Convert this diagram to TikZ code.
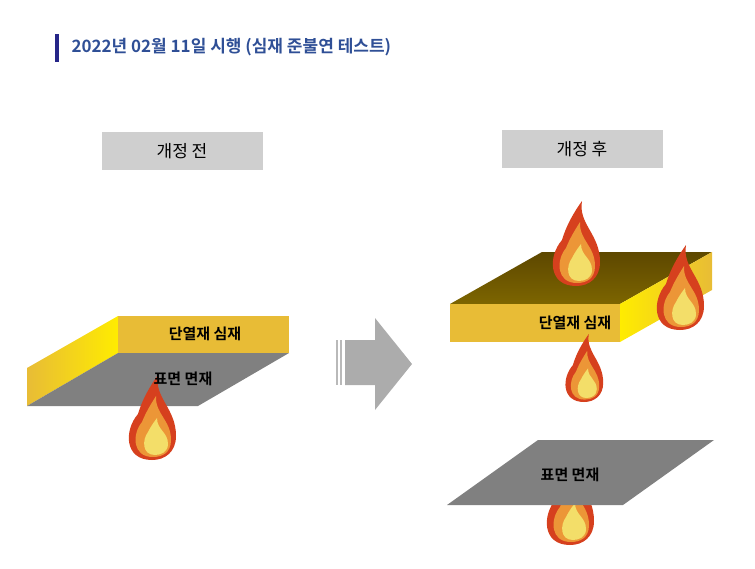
\documentclass[tikz,border=0pt]{standalone}
\usepackage{fontspec}
\setmainfont{Noto Sans CJK KR}
\newfontfamily\krb{Noto Sans CJK KR Bold}
\definecolor{fred}{RGB}{214,64,30}
\definecolor{forg}{RGB}{236,150,55}
\definecolor{fyel}{RGB}{243,222,105}
\definecolor{slabY}{RGB}{232,188,54}
\definecolor{plateG}{RGB}{128,128,128}
\definecolor{olive}{RGB}{110,84,0}
\begin{document}
\begin{tikzpicture}[x=1pt,y=-1pt,
  lab/.style={font=\krb\fontsize{15}{17}\selectfont,text=black,inner sep=0},
  hdr/.style={fill=gray!38,minimum width=161pt,minimum height=38pt,font=\fontsize{17}{19}\selectfont,inner sep=0},
  flame/.pic={
    \fill[fred] (0,0) .. controls (-28,0) and (-28,-30) .. (-14,-46) .. controls (-10,-60) and (-2,-74) .. (6,-85) .. controls (2,-62) and (24,-52) .. (24,-24) .. controls (24,-8) and (13,0) .. (0,0) -- cycle;
    \fill[forg] (1,-3) .. controls (-20,-3) and (-20,-26) .. (-10,-38) .. controls (-6,-48) and (-1,-56) .. (4,-64) .. controls (3,-46) and (19,-40) .. (19,-20) .. controls (19,-7) and (10,-3) .. (1,-3) -- cycle;
    \fill[fyel] (3,-5) .. controls (-10,-5) and (-10,-20) .. (-4,-28) .. controls (-1,-34) and (2,-38) .. (5,-42) .. controls (5,-30) and (16,-28) .. (16,-16) .. controls (16,-8) and (9,-5) .. (3,-5) -- cycle;
  }]
\useasboundingbox (0,0) rectangle (755,568);
% title
\fill[blue!45!black!85] (55,34) rectangle (59,62);
\node[anchor=west,font=\krb\fontsize{17}{19}\selectfont,text={rgb,255:red,47;green,79;blue,150}] (title) at (68,47) {2022년 02월 11일 시행 (심재 준불연 테스트)};
% headers
\node[hdr] (h1) at (182,151) {개정 전};
\node[hdr] (h2) at (582,149) {개정 후};
% left slab
\shade[left color=slabY, right color=yellow!85!orange] (27,368) -- (118,316) -- (118,353) -- (27,406) -- cycle;
\fill[slabY] (118,316) rectangle (289,353);
\fill[plateG] (118,353) -- (289,353) -- (198,406) -- (27,406) -- cycle;
\pic at (152,460) {flame};
\node[lab] (l1) at (205,334) {단열재 심재};
\node[lab] (l2) at (183,379) {표면 면재};
% arrow
\fill[gray!65] (345,340) -- (375,340) -- (375,318) -- (412,364) -- (375,410) -- (375,385) -- (345,385) -- cycle;
\fill[gray!55] (336,340) rectangle (338,385);
\fill[gray!55] (340,340) rectangle (342,385);
% right slab
\shade[top color=olive!85!black, bottom color=olive!90!yellow] (450,304) -- (542,252) -- (712,252) -- (620,304) -- cycle;
\fill[slabY] (450,304) rectangle (620,342);
\shade[left color=yellow!85!orange, right color=slabY] (620,304) -- (712,252) -- (712,290) -- (620,342) -- cycle;
\pic at (576,286) {flame};
\pic at (680,330) {flame};
\pic[scale=0.8] at (584,402) {flame};
\node[lab] (r1) at (575,323) {단열재 심재};
% lower plate
\pic at (570,545) {flame};
\fill[plateG] (447,505) -- (623,505) -- (714,440) -- (538,440) -- cycle;
\node[lab] (r2) at (570,475) {표면 면재};
\end{tikzpicture}
\end{document}
